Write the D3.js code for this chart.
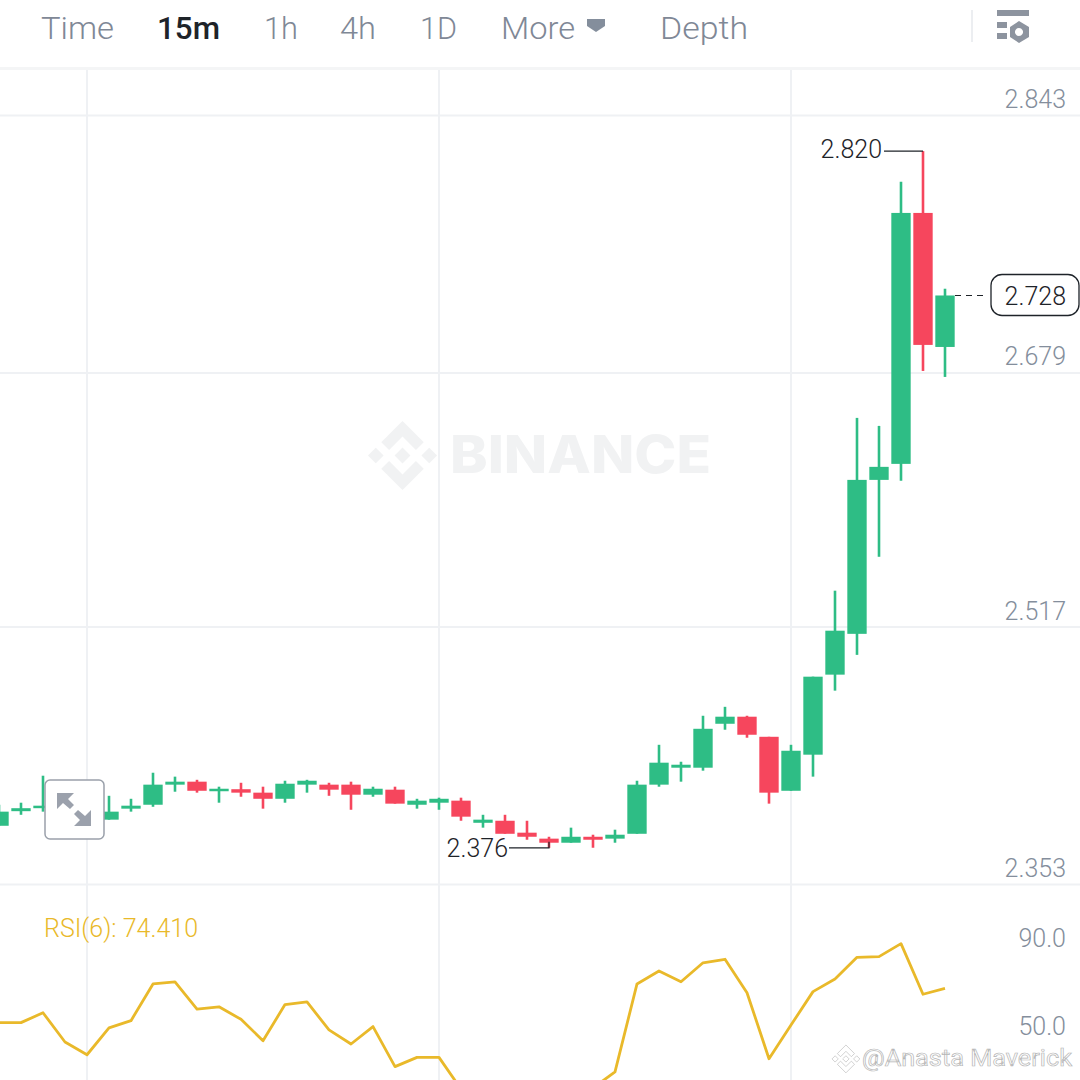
<!DOCTYPE html>
<html><head><meta charset="utf-8">
<script src="https://cdn.jsdelivr.net/npm/d3@7/dist/d3.min.js"></script>
<style>html,body{margin:0;padding:0;background:#fff}svg{display:block}
text{font-family:Roboto,sans-serif}
.domain{display:none}</style></head><body><svg id="c" width="1080" height="1080"></svg>
<script>
// Candle values, left to right.
// Candles 3 and 4 sit behind the expand button and are estimates; so are the RSI points that fall below the page.
const opens  = [2.3901,2.3994,2.4013,2.4029,2.4040,2.3940,2.4010,2.4035,2.4163,2.4182,2.4124,2.4134,2.4112,2.4073,2.4163,2.4163,2.4163,2.4099,2.4131,2.4035,2.4048,2.4061,2.3920,2.3933,2.3857,2.3819,2.3793,2.3831,2.3819,2.3850,2.4163,2.4271,2.4271,2.4551,2.4596,2.4468,2.4124,2.4354,2.4864,2.5124,2.6105,2.6207,2.7806,2.6952];
const highs  = [2.4035,2.4048,2.4220,2.4090,2.4060,2.4092,2.4073,2.4239,2.4214,2.4194,2.4150,2.4175,2.4150,2.4188,2.4194,2.4175,2.4182,2.4150,2.4150,2.4073,2.4080,2.4080,2.3971,2.3971,2.3933,2.3831,2.3889,2.3844,2.3876,2.4188,2.4417,2.4309,2.4602,2.4659,2.4602,2.4468,2.4417,2.4851,2.5399,2.6500,2.6449,2.8004,2.8200,2.7323];
const lows   = [2.3901,2.3971,2.3991,2.4000,2.3920,2.3940,2.3991,2.4022,2.4118,2.4112,2.4048,2.4086,2.4010,2.4048,2.4112,2.4092,2.4003,2.4086,2.4042,2.4010,2.4003,2.3933,2.3889,2.3850,2.3812,2.3760,2.3793,2.3761,2.3793,2.3850,2.4150,2.4182,2.4252,2.4513,2.4462,2.4042,2.4124,2.4214,2.4762,2.4990,2.5615,2.6099,2.6799,2.6761];
const closes = [2.3991,2.4013,2.4029,2.4060,2.3940,2.3991,2.4029,2.4163,2.4182,2.4124,2.4137,2.4112,2.4073,2.4169,2.4188,2.4131,2.4099,2.4137,2.4042,2.4061,2.4073,2.3959,2.3940,2.3850,2.3831,2.3793,2.3831,2.3812,2.3844,2.4163,2.4303,2.4290,2.4519,2.4596,2.4481,2.4112,2.4379,2.4851,2.5144,2.6105,2.6188,2.7806,2.6965,2.7280];
const rsiValues = [58.8,58.8,63.3,50.0,44.2,56.4,59.7,76.4,77.3,64.9,66.0,60.3,50.6,67.0,68.2,55.5,49.1,57.0,38.8,43.0,43.0,28.6,27,22,20,18,20,29.1,36.4,76.4,82.3,77.4,86.0,87.6,72.4,42.4,57.7,72.9,78.6,88.5,88.8,94.7,71.7,74.41];
const priceTicks = [2.843,2.679,2.517,2.353];
const rsiTicks = [90,50];
const gridCandles = [4,20,36];
const tabs = ["Time","15m","1h","4h","1D","More","Depth"];
const tabX = [41,157,264,340,420,501,660];
const tabW = [73,63,34,36,37,74,88];

const GREEN="#2ebd85",RED="#f6465d",GREY="#848e9c",INK="#1e2329",GRID="#eff1f4",YEL="#e9b92a";
const svg=d3.select("#c");
const idx=d3.range(closes.length);
const x=d3.scaleBand().domain(idx).range([-12,956]).paddingInner(.12).paddingOuter(.06);
const cx=i=>x(i)+x.bandwidth()/2;
const y=d3.scaleLinear().domain([2.353,2.843]).range([884,115]);
const ry=d3.scaleLinear().domain([50,90]).range([1042,954]);
const FS=25;

// header
svg.append("rect").attr("x",0).attr("y",67).attr("width",1080).attr("height",3).attr("fill","#f4f5f6");
svg.append("g").selectAll("text").data(tabs).join("text")
 .attr("x",(d,i)=>tabX[i]).attr("y",39).attr("textLength",(d,i)=>tabW[i]).attr("lengthAdjust","spacingAndGlyphs")
 .attr("font-size",31).attr("font-weight",d=>d==="15m"?500:300)
 .attr("fill",d=>d==="15m"?INK:"#7f8896").text(d=>d);
svg.append("path").attr("d","M587 19H605V26L596 32L587 26Z").attr("fill",GREY);
svg.append("rect").attr("x",971).attr("y",10).attr("width",2).attr("height",32).attr("fill","#eceef1");
const ic=svg.append("g").attr("fill","#8d949f");
ic.append("rect").attr("x",997).attr("y",10).attr("width",32).attr("height",6);
ic.append("rect").attr("x",997).attr("y",22).attr("width",10).attr("height",6);
ic.append("rect").attr("x",997).attr("y",33).attr("width",10).attr("height",6);
ic.append("path").attr("fill-rule","evenodd").attr("d","M1019 21L1029 27V37L1019 43L1010 37V27ZM1019 28a4 4 0 1 0 .01 0Z");

// grid & axes
svg.append("g").attr("transform","translate(0,70)").call(d3.axisBottom(x).tickValues(gridCandles).tickSize(1010).tickFormat(""))
 .selectAll("line").attr("stroke",GRID).attr("stroke-width",2);
const py=svg.append("g").call(d3.axisRight(y).tickValues(priceTicks).tickSize(1080).tickFormat(d3.format(".3f")));
py.selectAll("line").attr("stroke",GRID).attr("stroke-width",2);
py.selectAll("text").attr("x",1066).attr("dy",-7.5).attr("text-anchor","end").attr("font-size",FS).attr("font-weight",300).attr("fill",GREY).attr("font-family","Roboto");
const ra=svg.append("g").call(d3.axisRight(ry).tickValues(rsiTicks).tickSize(0).tickFormat(d3.format(".1f")));
ra.selectAll("text").attr("x",1066).attr("dy",-7.5).attr("text-anchor","end").attr("font-size",FS).attr("font-weight",300).attr("fill",GREY).attr("font-family","Roboto");

// watermark
const LOGO="M38.73 53.2l24.59-24.58 24.6 24.6 14.3-14.31L63.32 0 24.43 38.89zM0 63.31l14.3-14.31 14.31 14.31-14.31 14.3zM38.73 73.41l24.59 24.59 24.6-24.6 14.31 14.29-38.9 38.91-38.91-38.88-.02-.02zM98.03 63.31l14.3-14.31 14.31 14.3-14.31 14.32zM77.83 63.3L63.32 48.78 52.59 59.51l-1.24 1.23-2.54 2.54 14.51 14.5 14.51-14.47z";
svg.append("path").attr("d",LOGO).attr("transform","translate(368,421) scale(0.545)").attr("fill","#f1f2f3");
svg.append("text").attr("x",450).attr("y",473).attr("textLength",261).attr("lengthAdjust","spacingAndGlyphs")
 .attr("font-size",52).attr("font-weight",800).attr("fill","#f1f2f3").style("font-family","Inter").text("BINANCE");

// candles
const col=i=>closes[i]>=opens[i]?GREEN:RED;
const g=svg.append("g");
g.selectAll("line").data(idx).join("line")
 .attr("x1",cx).attr("x2",cx).attr("y1",i=>y(highs[i])).attr("y2",i=>y(lows[i]))
 .attr("stroke",col).attr("stroke-width",2.6);
g.selectAll("rect").data(idx).join("rect")
 .attr("x",i=>x(i)).attr("width",x.bandwidth())
 .attr("y",i=>y(Math.max(opens[i],closes[i])))
 .attr("height",i=>Math.max(2.5,Math.abs(y(opens[i])-y(closes[i]))))
 .attr("fill",col);

// high / low / last annotations
const hi=42, lo=25, last=43;
svg.append("path").attr("d",`M884 ${y(highs[hi])}H${cx(hi)}`).attr("stroke",INK).attr("stroke-width",1.2).attr("fill","none");
svg.append("text").attr("x",882).attr("y",y(highs[hi])+7).attr("text-anchor","end").attr("font-size",FS).attr("font-weight",300).attr("fill",INK).text("2.820");
svg.append("path").attr("d",`M509 ${y(lows[lo])}H${cx(lo)}V${y(2.38)}`).attr("stroke",INK).attr("stroke-width",1.2).attr("fill","none");
svg.append("text").attr("x",508).attr("y",y(lows[lo])+9).attr("text-anchor","end").attr("font-size",FS).attr("font-weight",300).attr("fill",INK).text("2.376");
svg.append("line").attr("x1",cx(last)+10).attr("x2",986).attr("y1",y(closes[last])).attr("y2",y(closes[last])).attr("stroke",INK).attr("stroke-width",1.2).attr("stroke-dasharray","6 5");
svg.append("rect").attr("x",991).attr("y",274.5).attr("width",88).attr("height",41).attr("rx",11).attr("fill","#fff").attr("stroke",INK).attr("stroke-width",1.3);
svg.append("text").attr("x",1066).attr("y",305).attr("text-anchor","end").attr("font-size",FS).attr("font-weight",300).attr("fill",INK).text("2.728");

// RSI
svg.append("path").datum(idx).attr("fill","none").attr("stroke",YEL).attr("stroke-width",2.8).attr("stroke-linejoin","round")
 .attr("d",d3.line().x(cx).y(i=>ry(rsiValues[i])));
svg.append("text").attr("x",44).attr("y",937).attr("font-size",FS).attr("font-weight",300).attr("fill",YEL).text("RSI(6): 74.410");

// expand button
svg.append("rect").attr("x",45).attr("y",780).attr("width",59).attr("height",59).attr("rx",5).attr("fill","#fff").attr("stroke","#9aa0aa").attr("stroke-width",1.5);
svg.append("path").attr("d","M57 793H74L68 799L74 805L70 809L63 803L57 809ZM91 826H74L80 820L74 814L78 810L85 816L91 810Z").attr("fill","#9ba1ac");

// author watermark
svg.append("path").attr("d",LOGO).attr("transform","translate(832,1045) scale(0.22)").attr("fill","#fff").attr("stroke","#bbb").attr("stroke-width",3);
svg.append("text").attr("x",862).attr("y",1066).attr("textLength",210).attr("lengthAdjust","spacingAndGlyphs").attr("font-size",24)
 .attr("fill","#fff").attr("stroke","#b5b5b5").attr("stroke-width",.7).text("@Anasta Maverick");
</script></body></html>
